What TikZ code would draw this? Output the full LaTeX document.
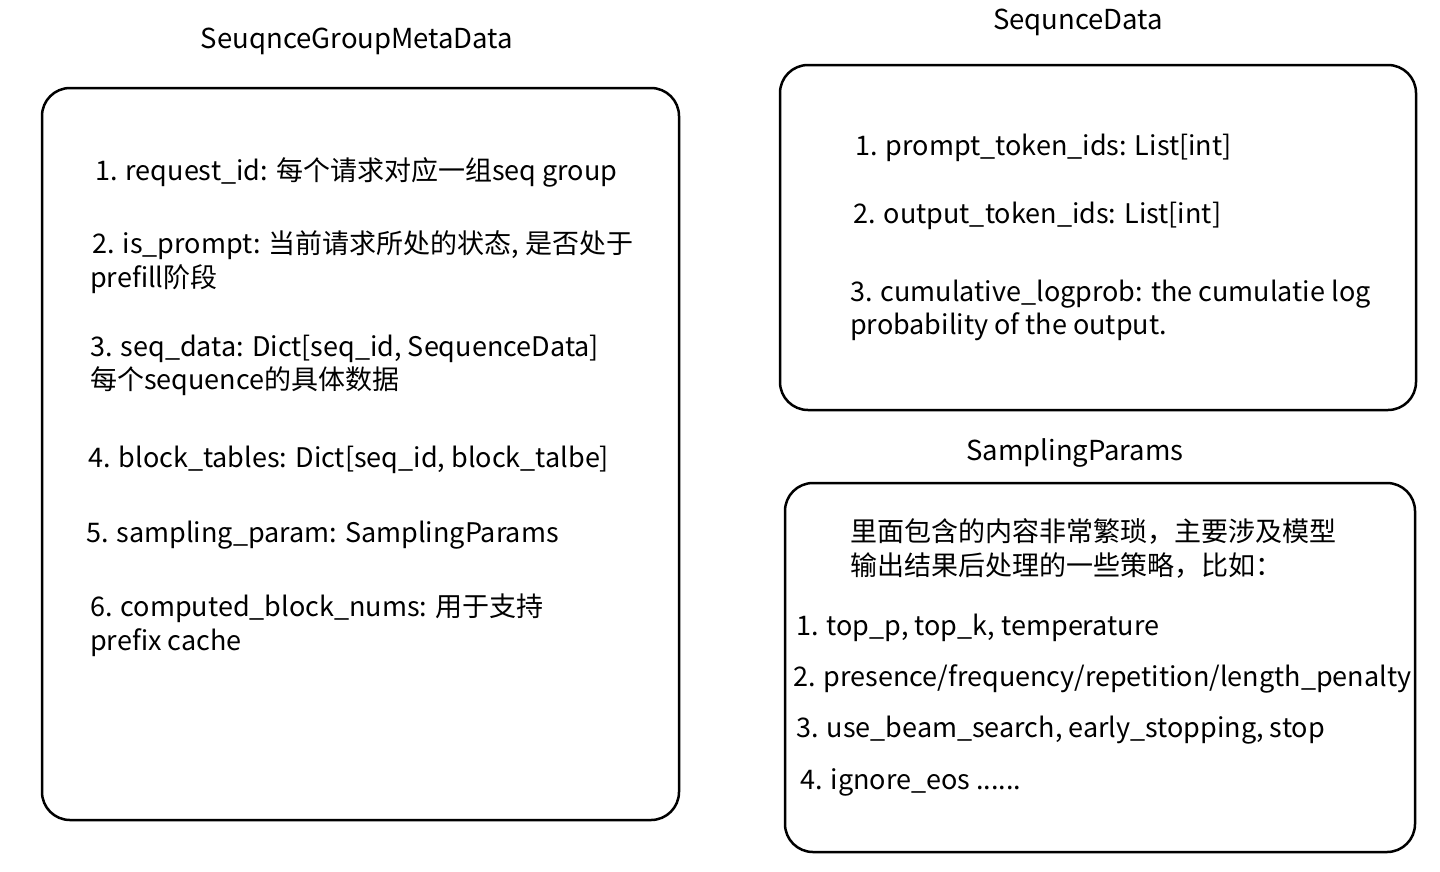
\documentclass[tikz,border=0pt]{standalone}
\usepackage{fontspec}
\setmainfont{Noto Sans CJK SC}

\begin{document}
\begin{tikzpicture}[x=1pt,y=-1pt,
  panel/.style={draw,line width=2.5pt,rounded corners=28pt,inner sep=0pt},
  title/.style={inner sep=0pt,font=\fontsize{27.5}{32}\selectfont},
  item/.style={anchor=base west,inner sep=0pt,font=\fontsize{27}{32}\selectfont}]
\useasboundingbox (0,0) rectangle (1440,871);

% left panel
\node[panel,minimum width=637pt,minimum height=732pt] (meta) at (360.5,454) {};
\node[title] (metaTitle) at (357,41) {SeuqnceGroupMetaData};
\node[item] (reqId) at (95,180) {1. request\_id: 每个请求对应一组seq group};
\node[item] (isPrompt) at (92,253) {2. is\_prompt: 当前请求所处的状态, 是否处于};
\node[item] (isPromptB) at (90,287) {prefill阶段};
\node[item] (seqData) at (90,356) {3. seq\_data: Dict[seq\_id, SequenceData]};
\node[item] (seqDataB) at (90,389) {每个sequence的具体数据};
\node[item] (blockTab) at (88,467) {4. block\_tables: Dict[seq\_id, block\_talbe]};
\node[item] (sampParam) at (86,542) {5. sampling\_param: SamplingParams};
\node[item] (compBlk) at (90,616) {6. computed\_block\_nums: 用于支持};
\node[item] (compBlkB) at (90,650) {prefix cache};

% top right panel
\node[panel,minimum width=636pt,minimum height=345pt] (seq) at (1098,237.5) {};
\node[title] (seqTitle) at (1078,22) {SequnceData};
\node[item] (promptIds) at (855,155) {1. prompt\_token\_ids: List[int]};
\node[item] (outIds) at (853,223) {2. output\_token\_ids: List[int]};
\node[item] (cumLog) at (850,301) {3. cumulative\_logprob: the cumulatie log};
\node[item] (cumLogB) at (850,334) {probability of the output.};

% bottom right panel
\node[panel,minimum width=630pt,minimum height=369pt] (samp) at (1100,667.5) {};
\node[title] (sampTitle) at (1075,453) {SamplingParams};
\node[item] (sampNote) at (850,541) {里面包含的内容非常繁琐，主要涉及模型};
\node[item] (sampNoteB) at (850,575) {输出结果后处理的一些策略，比如：};
\node[item] (topP) at (796,635) {1. top\_p, top\_k, temperature};
\node[item] (penalty) at (793,686) {2. presence/frequency/repetition/length\_penalty};
\node[item] (beam) at (796,737) {3. use\_beam\_search, early\_stopping, stop};
\node[item] (eos) at (800,789) {4. ignore\_eos ......};
\end{tikzpicture}
\end{document}
